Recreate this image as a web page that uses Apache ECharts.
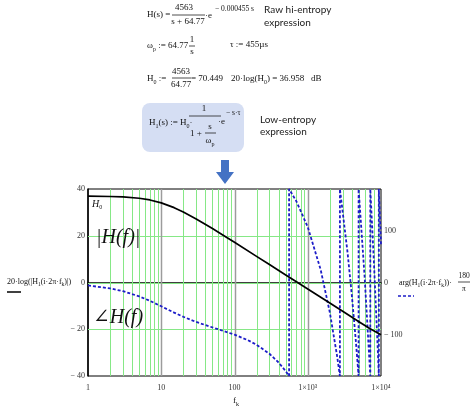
<!DOCTYPE html>
<html>
<head>
<meta charset="utf-8">
<script src="https://cdn.jsdelivr.net/npm/echarts@6/dist/echarts.min.js"></script>
<style>html,body{margin:0;padding:0;background:#fff}#main{width:474px;height:418px}</style>
</head>
<body>
<div id="main"></div>
<script>
// magnitude 20·log|H1| (dB)
var magFreqs = [1, 2, 3, 5, 7, 10, 15, 20, 30, 50, 70, 100, 200, 300, 500, 700, 1000, 2000, 3000, 5000, 7000, 10000];
var magDb = [36.92, 36.80, 36.60, 36.04, 35.31, 34.08, 32.02, 30.18, 27.19, 23.06, 20.23, 17.18, 11.19, 7.68, 3.24, 0.32, -2.78, -8.80, -12.32, -16.76, -19.68, -22.4];
// phase arg(H1)·180/π (deg), blue dotted curve, repeated freq = wrap jump
var phaseFreqs = [1, 2, 3, 5, 7, 10, 15, 20, 30, 50, 70, 100, 150, 200, 300, 400, 500, 556, 556, 700, 1000, 1500, 2000, 2500, 2749, 2749, 3500, 4000, 4500, 4946, 4946, 6000, 7144, 7144, 8000, 9000, 9341, 9341, 10000];
var phaseDeg = [-5.7, -11.3, -16.7, -26.7, -35.3, -45.8, -58.0, -66.0, -76.0, -86.5, -93.1, -100.5, -110.6, -119.8, -137.2, -154.0, -170.7, -180, 180, 156.2, 106.8, 24.7, -57.3, -139.3, -180, 180, 56.9, -25.1, -107.0, -180, 180, 7.3, -180, 180, 39.7, -124.1, -180, 180, 72.1];
var xTickLabels = ['1', '10', '100', '1×10³', '1×10⁴'];
var rightTicks = [-100, 0, 100];
var hGrid = [20, 0, -20];
var decades = [10, 100, 1000];

var serif = '"Liberation Serif", "DejaVu Serif", serif';
var sans = 'Lato, "Liberation Sans", sans-serif';

var dom = document.getElementById('main');
var myChart = echarts.init(dom);

// minor grid positions 2..9 per decade
var minorX = [];
[1, 10, 100, 1000].forEach(function (d) {
    for (var m = 2; m <= 9; m++) minorX.push(m * d);
});

function vLines(color, width) {
    return function (params, api) {
        var p1 = api.coord([api.value(0), 40]);
        var p2 = api.coord([api.value(0), -40]);
        return {type: 'line', shape: {x1: Math.round(p1[0]) + 0.5, y1: p1[1], x2: Math.round(p2[0]) + 0.5, y2: p2[1]},
            style: {stroke: color, lineWidth: width}};
    };
}
function hLines(params, api) {
    var p1 = api.coord([1, api.value(1)]);
    var p2 = api.coord([10000, api.value(1)]);
    return {type: 'line', shape: {x1: p1[0], y1: Math.round(p1[1]) + 0.5, x2: p2[0], y2: Math.round(p2[1]) + 0.5},
        style: {stroke: '#86e886', lineWidth: 1}};
}

var richSub = {
    s: {fontSize: 6, lineHeight: 6, verticalAlign: 'bottom', fontFamily: serif},
    n: {fontSize: 9, lineHeight: 12, fontFamily: serif}
};
var richSide = {
    n: {fontSize: 8, lineHeight: 11, fontFamily: serif},
    s: {fontSize: 5.5, lineHeight: 5, verticalAlign: 'bottom', fontFamily: serif}
};

function txt(x, y, text, o) {
    o = o || {};
    return {
        type: 'text', x: x, y: y, silent: true, z: 100,
        style: {
            text: text, fill: o.fill || '#111',
            font: o.font || ('9px ' + serif),
            lineHeight: 12,
            align: o.align || 'left', verticalAlign: 'middle',
            rich: o.rich
        }
    };
}
function bar(x1, x2, y) {
    return {type: 'line', silent: true, z: 100, shape: {x1: x1, y1: y, x2: x2, y2: y}, style: {stroke: '#222', lineWidth: 0.8}};
}
var small = {font: '7.5px ' + serif};
var note = {font: '10px ' + sans, fill: '#222'};
var eqRich = {rich: richSub};

var graphics = [
    // H(s)
    txt(147, 15, 'H(s) ='),
    txt(184, 8, '4563', {align: 'center'}),
    bar(172, 205, 15),
    txt(188, 22, 's + 64.77', {align: 'center'}),
    txt(205, 16, '·e'),
    txt(215, 9, '− 0.000455 s', small),
    txt(264, 10, 'Raw hi-entropy', note),
    txt(264, 23, 'expression', note),
    // ωp, τ
    txt(147, 46, '{n|ω}{s|p}{n| := 64.77}', eqRich),
    txt(192, 40, '1', {align: 'center'}),
    bar(189, 195, 46),
    txt(192, 52, 's', {align: 'center'}),
    txt(230, 45, 'τ := 455µs'),
    // H0
    txt(147, 79, '{n|H}{s|0}{n| :=}', eqRich),
    txt(181, 72, '4563', {align: 'center'}),
    bar(172, 191, 78),
    txt(181, 85, '64.77', {align: 'center'}),
    txt(191, 79, '= 70.449'),
    txt(231, 79, '{n|20·log(H}{s|0}{n|) = 36.958}', eqRich),
    txt(311, 79, 'dB'),
    // low-entropy box
    {type: 'rect', silent: true, z: 90, shape: {x: 142, y: 103, width: 102, height: 49, r: 8}, style: {fill: '#d5def3'}},
    txt(149, 123, '{n|H}{s|1}{n|(s) := H}{s|0}{n|·}', eqRich),
    txt(204, 109, '1', {align: 'center'}),
    bar(189, 221, 116),
    txt(190, 134, '1 +'),
    txt(210, 127, 's', {align: 'center'}),
    bar(205, 216, 133),
    txt(210, 141, '{n|ω}{s|p}', {align: 'center', rich: richSub}),
    txt(218, 122, '·e'),
    txt(226, 113, '− s·τ', small),
    txt(260, 120, 'Low-entropy', note),
    txt(260, 132, 'expression', note),
    {type: 'polygon', silent: true, z: 100, shape: {points: [[221, 160], [229, 160], [229, 172], [234, 172], [225, 184], [216, 172], [221, 172]]}, style: {fill: '#4472c4'}},
    // labels inside the plot
    txt(92, 204, '{h|H}{s|0}', {rich: {h: {fontSize: 10, fontStyle: 'italic', fontFamily: serif}, s: richSub.s}}),
    txt(96, 238, '|H(f)|', {font: 'italic 20px ' + serif}),
    txt(93, 318, '∠H(f)', {font: 'italic 20px ' + serif}),
    // side legends
    txt(7, 282, '{n|20·log(|H}{s|1}{n|(i·2π·f}{s|k}{n|)|)}', {rich: richSide}),
    {type: 'line', silent: true, z: 100, shape: {x1: 7, y1: 292, x2: 21, y2: 292}, style: {stroke: '#000', lineWidth: 1.5}},
    txt(399, 283, '{n|arg(H}{s|1}{n|(i·2π·f}{s|k}{n|))·}', {rich: richSide}),
    txt(464, 276, '180', {align: 'center', font: '7.5px ' + serif}),
    bar(458, 470, 282),
    txt(464, 289, 'π', {align: 'center', font: '7.5px ' + serif}),
    {type: 'line', silent: true, z: 100, shape: {x1: 398, y1: 296, x2: 414, y2: 296}, style: {stroke: '#1c1cc8', lineWidth: 1.5, lineDash: [3, 2]}},
    // x axis name
    txt(233, 401, '{n|f}{s|k}', eqRich)
];

option = {
    animation: false,
    grid: {left: 88, right: 93, top: 189, bottom: 42, show: true, borderColor: '#000', borderWidth: 1, outerBoundsMode: 'none'},
    xAxis: {
        type: 'log', logBase: 10, min: 1, max: 10000,
        axisLine: {lineStyle: {color: '#000', width: 1.5}},
        axisTick: {show: false},
        splitLine: {show: false},
        axisLabel: {
            margin: 8, color: '#333', fontFamily: serif, fontSize: 8,
            formatter: function (v) { return xTickLabels[Math.round(Math.log10(v))]; }
        }
    },
    yAxis: [
        {
            type: 'value', min: -40, max: 40, interval: 20,
            axisLine: {show: true, lineStyle: {color: '#000', width: 1.5}},
            axisTick: {show: false},
            splitLine: {show: false},
            axisLabel: {
                margin: 3, color: '#333', fontFamily: serif, fontSize: 8,
                formatter: function (v) { return v < 0 ? '− ' + (-v) : '' + v; }
            }
        },
        {
            type: 'value', min: -180, max: 180, position: 'right',
            axisLine: {show: false},
            axisTick: {show: false},
            splitLine: {show: false},
            axisLabel: {
                margin: 3, color: '#333', fontFamily: serif, fontSize: 8,
                customValues: rightTicks,
                formatter: function (v) { return v < 0 ? '− ' + (-v) : '' + v; }
            }
        }
    ],
    series: [
        {
            name: 'minorGrid', type: 'custom', z: 1, silent: true,
            renderItem: vLines('#86e886', 1),
            data: minorX.map(function (x) { return [x, 0]; })
        },
        {
            name: 'hGrid', type: 'custom', z: 1, silent: true,
            renderItem: hLines,
            data: hGrid.map(function (y) { return [1, y]; })
        },
        {
            name: 'decadeGrid', type: 'custom', z: 1, silent: true,
            renderItem: vLines('#9c9c9c', 1.5),
            data: decades.map(function (x) { return [x, 0]; })
        },
        {
            name: 'phase', type: 'line', yAxisIndex: 1, z: 3, showSymbol: false,
            lineStyle: {color: '#1c1cc8', width: 1.8, type: [3, 2]},
            data: phaseFreqs.map(function (f, i) { return [f, phaseDeg[i]]; })
        },
        {
            name: 'mag', type: 'line', z: 4, showSymbol: false,
            lineStyle: {color: '#000', width: 1.7},
            data: magFreqs.map(function (f, i) { return [f, magDb[i]]; })
        }
    ],
    graphic: graphics
};

if (option && typeof option === "object") {
    myChart.setOption(option, true);
}
</script>
</body>
</html>
